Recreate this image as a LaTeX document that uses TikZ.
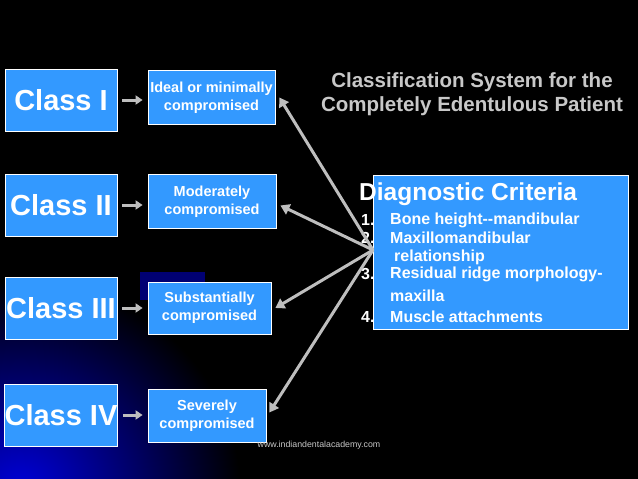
\documentclass[tikz,border=0pt]{standalone}
\usepackage{fontspec}
\setmainfont{Liberation Sans}
\usetikzlibrary{arrows.meta,positioning,calc}
\definecolor{boxblue}{RGB}{51,153,255}
\definecolor{arrowgrey}{RGB}{190,190,190}
\definecolor{titlegrey}{RGB}{200,200,200}
\tikzset{
  box/.style={draw=white, line width=0.8pt, fill=boxblue, text=white, font=\bfseries, inner sep=0pt},
  classbox/.style={box, minimum width=112pt, minimum height=62pt, font=\bfseries\fontsize{29}{32}\selectfont},
  levelbox/.style={box, minimum height=54pt, align=center, font=\bfseries\fontsize{14.5}{18}\selectfont},
  item/.style={text=white, font=\bfseries\fontsize{16}{18}\selectfont, anchor=west, inner sep=0pt},
  link/.style={arrowgrey, line width=3pt, -{Triangle[length=9pt,width=11pt]}}
}
\begin{document}
\begin{tikzpicture}[x=1pt,y=-1pt]
    \useasboundingbox (0,0) rectangle (638,479);
    \fill[black] (0,0) rectangle (638,479);
    % blue glow in the lower left corner
    \shade[inner color=blue!85!black, outer color=black] (-200,280) rectangle (240,700);
    \fill[black] (0,0) rectangle (638,255);
    \fill[blue!45!black] (140,272) rectangle (205,300);

    % classes
    \node[classbox] (c1) at (61,100) {Class I};
    \node[classbox] (c2) at (61,205) {Class II};
    \node[classbox] (c3) at (61,308) {Class III};
    \node[classbox] (c4) at (61,415) {Class IV};

    % levels
    \node[levelbox, minimum width=127pt] (l1) at (211.5,97.5) {Ideal or minimally\\compromised};
    \node[levelbox, minimum width=128pt] (l2) at (212,201.5) {Moderately\\compromised};
    \node[levelbox, minimum width=123pt, minimum height=52pt] (l3) at (209.5,308) {Substantially\\compromised};
    \node[levelbox, minimum width=118pt, minimum height=53pt] (l4) at (207,415.5) {Severely\\compromised};

    \foreach \i in {1,...,4}
        \draw[arrowgrey, line width=3pt, -{Triangle[length=7pt,width=9pt]}] ($(c\i.east)+(5,0)$) -- ($(c\i.east -| l\i.west)+(-5,0)$);

    % title
    \node[text=titlegrey, font=\bfseries\fontsize{20.5}{24}\selectfont, align=center] (title) at (472,94) {Classification System for the\\Completely Edentulous Patient};

    % criteria
    \node[box, minimum width=255pt, minimum height=154pt] (crit) at (500.5,252) {};
    \node[text=white, font=\bfseries\fontsize{24.5}{26}\selectfont, anchor=west, inner sep=0pt] (head) at (359,194) {Diagnostic Criteria};
    \node[item] (n1) at (361,220) {1.};
    \node[item] (n2) at (361,238) {2.};
    \node[item] (n3) at (361,274) {3.};
    \node[item] (n4) at (361,317) {4.};
    \node[item] (i1) at (390,220) {Bone height-{}-mandibular};
    \node[item] (i2) at (390,238) {Maxillomandibular};
    \node[item] (i2b) at (394,257) {relationship};
    \node[item] (i3) at (390,274) {Residual ridge morphology-};
    \node[item] (i3b) at (390,296) {maxilla};
    \node[item] (i4) at (390,317) {Muscle attachments};

    \coordinate (hub) at (373,250);
    \draw[link] (hub) -- ($(l1.east)+(4,0)$);
    \draw[link] (hub) -- ($(l2.east)+(4,4)$);
    \draw[link] (hub) -- ($(l3.east)+(4,0)$);
    \draw[link] (hub) -- ($(l4.east)+(3,-3)$);

    \node[text=titlegrey, font=\fontsize{8.8}{10}\selectfont] (web) at (319,445) {www.indiandentalacademy.com};
\end{tikzpicture}
\end{document}
